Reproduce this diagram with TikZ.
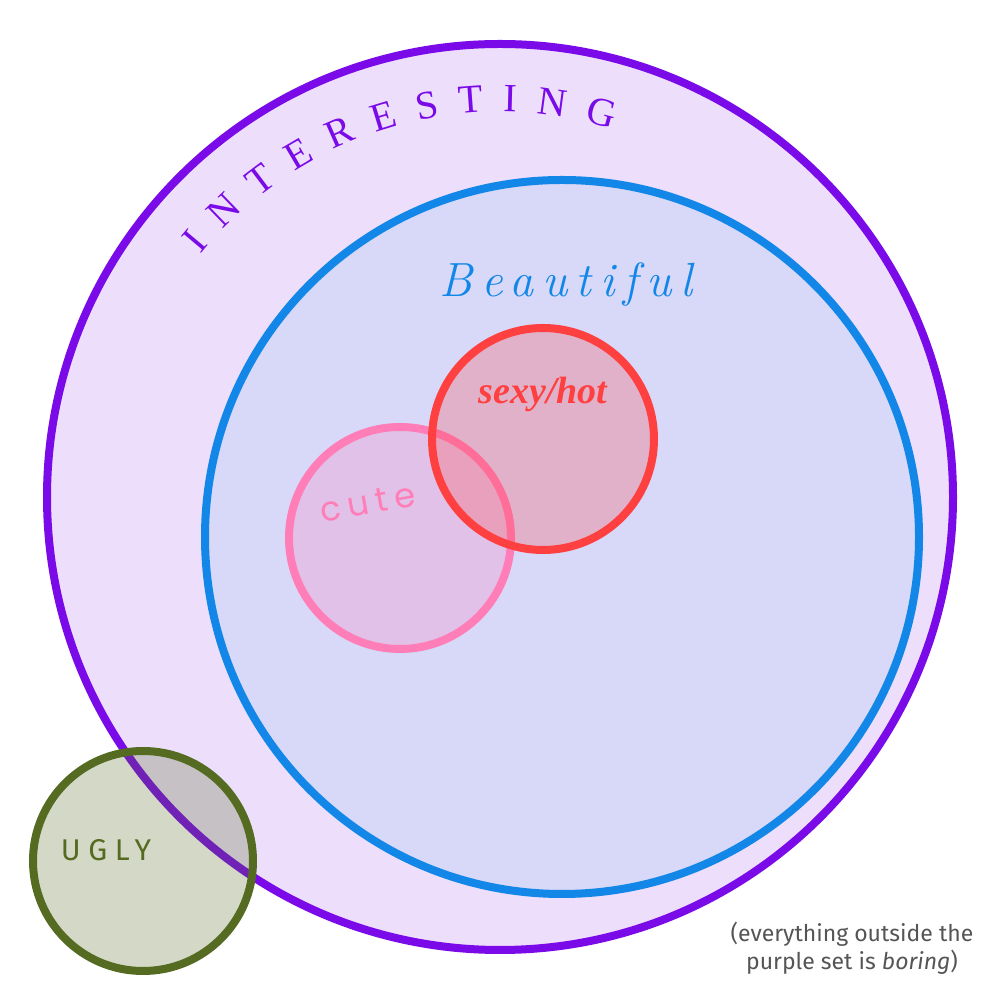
\documentclass[tikz,border=0pt]{standalone}
\usepackage{fontspec}
\setmainfont{Liberation Serif}
\newfontfamily\fira{Fira Sans}
\newfontfamily\firaspaced[LetterSpace=25]{Fira Sans}
\newfontfamily\pop[LetterSpace=20]{Poppins}
\newfontfamily\beaufont[LetterSpace=18]{Latin Modern Roman}
\newfontfamily\sexyfont{Liberation Serif}
\usetikzlibrary{decorations.text}
\definecolor{cpur}{HTML}{7A0AE8}
\definecolor{cblue}{HTML}{1287E8}
\definecolor{cbluef}{HTML}{D8D8F8}
\definecolor{cred}{HTML}{FF4040}
\definecolor{cpink}{HTML}{FF7EB8}
\definecolor{cgreen}{HTML}{556B22}
\definecolor{cgray}{HTML}{555555}
\tikzset{setline/.style={line width=8pt}}
\begin{document}
\begin{tikzpicture}[x=1pt,y=1pt]
\useasboundingbox (0,0) rectangle (1000,1000);
\fill[white] (0,0) rectangle (1000,1000);
\node[setline,draw=cpur,fill=cpur,fill opacity=0.13,draw opacity=1,circle,minimum size=906pt,inner sep=0] (int) at (500,503) {};
\node[setline,draw=cblue,fill=cbluef,circle,minimum size=714pt,inner sep=0] (beau) at (562,463) {};
\node[setline,draw=cpink,fill=cpink,fill opacity=0.25,draw opacity=1,circle,minimum size=222pt,inner sep=0] (cute) at (400,462) {};
\node[setline,draw=cred,fill=cred,fill opacity=0.25,draw opacity=1,circle,minimum size=222pt,inner sep=0] (sexy) at (543,561) {};
\node[setline,draw=cgreen,fill=cgreen,fill opacity=0.25,draw opacity=1,circle,minimum size=220pt,inner sep=0] (ugly) at (143,139) {};
\path[decorate,decoration={text along path,text align={fit to path},
  text={|\fontsize{40}{40}\selectfont\color{cpur}|INTERESTING}}]
  (500,503) ++(141:385) arc[start angle=141,end angle=73,radius=385];
\node[text=cblue,font=\beaufont\fontsize{48}{48}\selectfont\itshape] (tb) at (566,715) {Beautiful};
\node[text=cred,font=\sexyfont\fontsize{38}{38}\selectfont\bfseries\itshape] (ts) at (543,606) {sexy/hot};
\node[text=cpink,font=\pop\fontsize{34}{34}\selectfont,rotate=10] (tc) at (368,497) {cute};
\node[text=cgreen,font=\firaspaced\fontsize{30}{30}\selectfont] (tu) at (106,150) {UGLY};
\node[text=cgray,font=\fira\fontsize{23}{28}\selectfont,align=center] (tn) at (852,52)
  {(everything outside the\\purple set is \textit{boring})};
\end{tikzpicture}
\end{document}
